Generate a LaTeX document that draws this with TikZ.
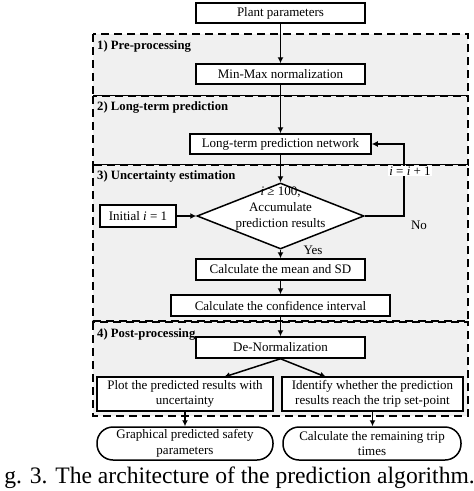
\documentclass[tikz,border=0pt]{standalone}
\usepackage{fontspec}
\setmainfont{Liberation Serif}
\usetikzlibrary{shapes.geometric,arrows.meta}
\begin{document}
\begin{tikzpicture}[x=1pt,y=-1pt,
  region/.style={draw, line width=1.8pt, dash pattern=on 8pt off 5pt, fill=black!6},
  proc/.style={draw, line width=1.5pt, fill=white, inner sep=0pt, font=\fontsize{13}{15}\selectfont, align=center},
  term/.style={draw, line width=1.5pt, fill=white, rounded corners=16pt, inner sep=0pt, font=\fontsize{13}{15.5}\selectfont, align=center},
  lab/.style={font=\bfseries\fontsize{12.7}{14}\selectfont, anchor=west, inner sep=0pt},
  arr/.style={line width=1.5pt, -{Latex[length=6pt,width=6pt]}},
  txt/.style={font=\fontsize{13}{15}\selectfont, inner sep=1pt}]
\useasboundingbox (0,0) rectangle (474,491);
% regions
\draw[region] (93,34) rectangle (468,96);
\draw[region] (93,96) rectangle (468,165);
\draw[region] (93,165) rectangle (468,321);
\draw[region] (93,322) rectangle (468,416);
\node[lab] (l1) at (97,46) {1) Pre-processing};
\node[lab] (l2) at (97,107) {2) Long-term prediction};
\node[lab] (l3) at (97,176) {3) Uncertainty estimation};
\node[lab] (l4) at (97,334) {4) Post-processing};
% boxes
\node[proc, minimum width=169pt, minimum height=20pt] (plant) at (280.5,13) {Plant parameters};
\node[proc, minimum width=169pt, minimum height=20pt] (minmax) at (280.5,74) {Min-Max normalization};
\node[proc, minimum width=181pt, minimum height=20pt] (ltp) at (280.5,144) {Long-term prediction network};
\node[diamond, draw, line width=1.5pt, fill=white, minimum width=167pt, minimum height=66pt, inner sep=0pt, aspect=2.53] (dec) at (280.5,216) {};
\node[txt, align=center, font=\fontsize{13}{16}\selectfont] (dect) at (280.5,209) {\textit{i} ≥ 100,\\Accumulate\\prediction results};
\node[proc, minimum width=76pt, minimum height=22pt] (init) at (138,216) {Initial \textit{i} = 1};
\node[proc, minimum width=169pt, minimum height=21pt] (mean) at (280.5,269.5) {Calculate the mean and SD};
\node[proc, minimum width=219pt, minimum height=21pt] (conf) at (280.5,305.5) {Calculate the confidence interval};
\node[proc, minimum width=169pt, minimum height=21pt] (denorm) at (280.5,347.5) {De-Normalization};
\node[proc, minimum width=176pt, minimum height=34pt] (plot) at (185,394) {Plot the predicted results with\\uncertainty};
\node[proc, minimum width=181pt, minimum height=34pt] (ident) at (372.5,394) {Identify whether the prediction\\results reach the trip set-point};
\node[term, minimum width=176pt, minimum height=33pt] (graph) at (185,443.5) {Graphical predicted safety\\parameters};
\node[term, minimum width=178pt, minimum height=33pt] (remain) at (372,443.5) {Calculate the remaining trip\\times};
% connectors
\draw[arr] (plant) -- (minmax);
\draw[arr] (minmax) -- (ltp);
\draw[arr] (ltp) -- (dec.north);
\draw[arr] (init) -- (dec.west);
\coordinate (fb) at (404,216);
\draw[arr] (dec.east) -- (fb) |- (ltp.east);
\node[txt, fill=white] (inc) at (410,171) {\textit{i} = \textit{i} + 1};
\node[txt] (no) at (419,225) {No};
\draw[arr] (dec.south) -- (mean);
\node[txt] (yes) at (313,250) {Yes};
\draw[arr] (mean) -- (conf);
\draw[arr] (conf) -- (denorm);
\draw[arr] (denorm.south) -- (224,377);
\draw[arr] (denorm.south) -- (326,377);
\draw[arr] (plot) -- (graph);
\draw[arr] (ident.south) -- (ident.south |- remain.north);
% caption
\node[anchor=base east, inner sep=0pt, font=\fontsize{23.6}{26}\selectfont] (cap) at (475,483) {g. 3. The architecture of the prediction algorithm.};
\end{tikzpicture}
\end{document}
